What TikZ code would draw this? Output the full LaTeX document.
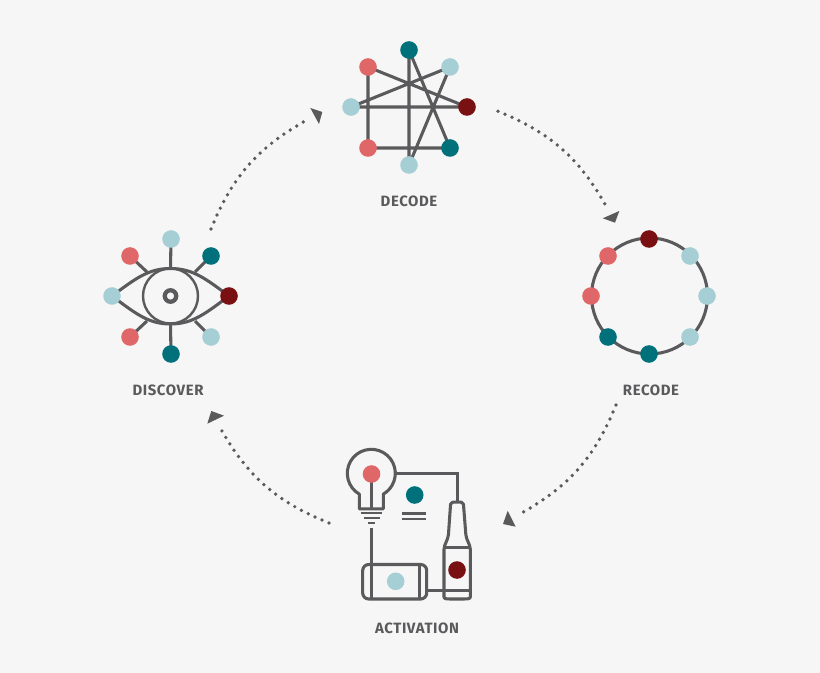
\documentclass[tikz,border=0pt]{standalone}
\usepackage{fontspec}
\setmainfont{Fira Sans}
\newfontfamily\lblfont[LetterSpace=4]{Fira Sans}
\definecolor{bgc}{HTML}{F6F6F6}
\definecolor{ink}{HTML}{5A5A5C}
\definecolor{teal}{HTML}{00707A}
\definecolor{rose}{HTML}{E06768}
\definecolor{ice}{HTML}{A5CED5}
\definecolor{wine}{HTML}{791113}
\tikzset{
  x=0.75pt,y=0.75pt,
  dotn/.style={circle,inner sep=0pt,minimum size=13.2pt,draw=none},
  tealdot/.style={dotn,fill=teal},
  rosedot/.style={dotn,fill=rose},
  icedot/.style={dotn,fill=ice},
  winedot/.style={dotn,fill=wine},
  wire/.style={draw=ink,line width=2.3pt},
  thin wire/.style={draw=ink,line width=1.8pt},
  hair wire/.style={draw=ink,line width=1.3pt},
  dotted arc/.style={draw=ink,line width=2.8pt,line cap=round,dash pattern=on 0pt off 5.7pt},
  head/.style={fill=ink,draw=none},
  lbl/.style={text=ink,font=\lblfont\bfseries\fontsize{11.2pt}{13pt}\selectfont,inner sep=0pt,anchor=center},
}
\begin{document}
\begin{tikzpicture}
\useasboundingbox (0,-673) rectangle (820,0);
\fill[bgc] (0,-673) rectangle (820,0);

% DECODE
\coordinate (dT) at (409,-50);
\coordinate (dTL) at (368,-67);
\coordinate (dTR) at (450,-67);
\coordinate (dL) at (351,-107);
\coordinate (dR) at (467,-107);
\coordinate (dBL) at (368,-148);
\coordinate (dBR) at (450,-148);
\coordinate (dB) at (409,-165);
\draw[wire] (dTL)--(dBL) (dBL)--(dBR) (dT)--(dB) (dL)--(dR) (dTL)--(dR) (dL)--(dTR) (dT)--(dBR) (dTR)--(dB);
\node[tealdot] (n1) at (dT) {};
\node[rosedot] (n2) at (dTL) {};
\node[icedot] (n3) at (dTR) {};
\node[icedot] (n4) at (dL) {};
\node[winedot] (n5) at (dR) {};
\node[rosedot] (n6) at (dBL) {};
\node[tealdot] (n7) at (dBR) {};
\node[icedot] (n8) at (dB) {};
\node[lbl] (decode) at (409,-201) {DECODE};

% RECODE
\node[circle,inner sep=0pt,minimum size=87pt,wire] (ring) at (649.5,-296) {};
\node[winedot] at (649,-239) {};
\node[rosedot] at (608,-256) {};
\node[icedot] at (690,-256) {};
\node[rosedot] at (591,-296) {};
\node[icedot] at (707,-296) {};
\node[tealdot] at (608,-337) {};
\node[icedot] at (690,-337) {};
\node[tealdot] at (649,-354) {};
\node[lbl] (recode) at (651,-390) {RECODE};

% DISCOVER
\coordinate (eL) at (112,-296);
\coordinate (eR) at (229,-296);
\coordinate (eC) at (170.5,-296);
\draw[wire] (eL) .. controls (135,-279) and (148,-268.5) .. (170.5,-268.5)
  .. controls (193,-268.5) and (206,-279) .. (eR);
\draw[wire] (eL) .. controls (135,-313) and (148,-324) .. (170.5,-324)
  .. controls (193,-324) and (206,-313) .. (eR);
\draw[thin wire] (eC) circle[radius=27.5];
\node[circle,inner sep=0pt,minimum size=8.6pt,draw=ink,line width=3.2pt] (pupil) at (170.5,-296) {};
\coordinate (s1) at (170.5,-268.5);
\coordinate (s2) at (147,-272);
\coordinate (s3) at (195,-272);
\coordinate (s4) at (147,-321);
\coordinate (s5) at (195,-321);
\coordinate (s6) at (170.5,-324);
\draw[wire] (171,-239)--(s1) (130,-256)--(s2) (211,-256)--(s3) (130,-337)--(s4) (211,-337)--(s5) (171,-354)--(s6);
\node[icedot] at (171,-239) {};
\node[rosedot] at (130,-256) {};
\node[tealdot] at (211,-256) {};
\node[icedot] at (eL) {};
\node[winedot] at (eR) {};
\node[rosedot] at (130,-337) {};
\node[icedot] at (211,-337) {};
\node[tealdot] at (171,-354) {};
\node[lbl] (discover) at (168,-390) {DISCOVER};

% ACTIVATION
\draw[wire,line join=round] (359.3,-508.8) -- (359.3,-494.1)
  arc[start angle=240,end angle=-60,radius=24] -- (383.3,-508.8) -- cycle;
\draw[wire] (371.5,-474) -- (371.5,-508.8);
\draw[hair wire] (360.7,-513)--(382.3,-513);
\draw[hair wire] (363.5,-517.8)--(379.5,-517.8);
\draw[thin wire] (368,-522.7)--(375,-522.7);
\draw[wire] (395.5,-473.3) -- (457.3,-473.3) -- (457.3,-502);
\draw[wire] (371.5,-528) -- (371.5,-565);
\draw[wire,rounded corners=4.5pt] (362.7,-564.5) rectangle (426.7,-599);
\draw[wire] (371.7,-564.5)--(371.7,-599) (419.3,-564.5)--(419.3,-599);
\draw[wire] (426.7,-590.7)--(444,-590.7);
\draw[wire,line join=round,rounded corners=1.5pt] (450.7,-502.2) -- (463.3,-502.2) -- (466,-536.7) -- (470.3,-547.3) -- (470.3,-595)
  .. controls (470.3,-599) and (468,-599) .. (457,-599)
  .. controls (446,-599) and (444,-599) .. (444,-595) -- (444,-547.3) -- (448.3,-536.7) -- cycle;
\draw[wire] (444,-547.3)--(470.3,-547.3) (444,-590.7)--(470.3,-590.7);
\draw[thin wire] (402,-513.3)--(426,-513.3) (402,-518.7)--(426,-518.7);
\node[rosedot] at (371.5,-474) {};
\node[tealdot] at (414.7,-495) {};
\node[icedot] at (395.7,-581.3) {};
\node[winedot] at (457,-570) {};
\node[lbl] (activation) at (417,-628) {ACTIVATION};

% cycle arrows
\coordinate (a1s) at (498,-111.3);
\coordinate (a1e) at (607.3,-208.3);
\coordinate (a2s) at (616,-405);
\coordinate (a2e) at (518,-515);
\coordinate (a3s) at (329,-523);
\coordinate (a3e) at (219,-425.7);
\coordinate (a4s) at (211,-229);
\coordinate (a4e) at (308.7,-119);
\draw[dotted arc] (a1s) to[bend left=19.5] (a1e);
\draw[dotted arc] (a2s) to[bend left=19.5] (a2e);
\draw[dotted arc] (a3s) to[bend left=19.5] (a3e);
\draw[dotted arc] (a4s) to[bend left=19.5] (a4e);
\fill[head] (619.3,-211) -- (602.7,-218.3) -- (615,-222.7) -- cycle;
\fill[head] (507.7,-510.7) -- (515.7,-526.7) -- (503,-524) -- cycle;
\fill[head] (211.3,-411) -- (224,-415.7) -- (207.3,-423.7) -- cycle;
\fill[head] (310.3,-108) -- (322.3,-112) -- (319,-124) -- cycle;
\end{tikzpicture}
\end{document}
